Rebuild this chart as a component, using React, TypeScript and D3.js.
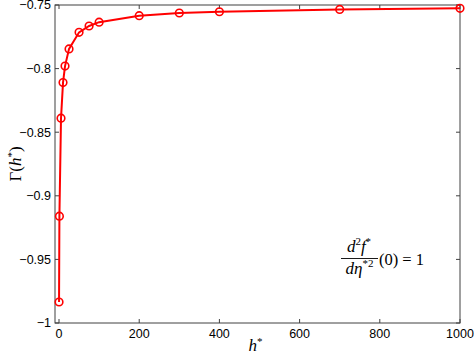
import * as d3 from 'd3';
import { useEffect, useRef } from 'react';

const WIDTH = 474;
const HEIGHT = 353;

// h* values and Γ(h*)
const hValues = [0.1, 1, 5, 10, 15, 25, 50, 75, 100, 200, 300, 400, 700, 1000];
const gammaValues = [
    -0.9835, -0.916, -0.839, -0.811, -0.798, -0.7845, -0.7715, -0.7665, -0.7635, -0.7584,
    -0.7563, -0.7553, -0.7535, -0.7526,
];
const xTicks = [0, 200, 400, 600, 800, 1000];
const yTicks = [-1, -0.95, -0.9, -0.85, -0.8, -0.75];

const fmtY = (v: number) => (v < 0 ? '\u2212' + String(Math.abs(v)) : String(v));

export default function App() {
    const svgRef = useRef<SVGSVGElement | null>(null);

    useEffect(() => {
        if (!svgRef.current) {
            return;
        }
        const svg = d3.select(svgRef.current);
        svg.selectAll('*').remove();

        const margin = { top: 5, right: 14, bottom: 30, left: 55 };
        const innerW = WIDTH - margin.left - margin.right;
        const innerH = HEIGHT - margin.top - margin.bottom;

        const x = d3.scaleLinear().domain([-10, 1000]).range([0, innerW]);
        const y = d3.scaleLinear().domain([-1, -0.75]).range([innerH, 0]);

        const g = svg.append('g').attr('transform', `translate(${margin.left},${margin.top})`);
        const axisColor = '#404040';
        const tickLen = 4;
        const sans = '"Liberation Sans", Arial, sans-serif';

        g.append('rect')
            .attr('width', innerW)
            .attr('height', innerH)
            .attr('fill', 'white')
            .attr('stroke', axisColor)
            .attr('stroke-width', 1);

        // x ticks, pointing inward at bottom and top
        xTicks.forEach((t) => {
            g.append('line')
                .attr('x1', x(t)).attr('x2', x(t))
                .attr('y1', innerH).attr('y2', innerH - tickLen)
                .attr('stroke', axisColor);
            g.append('line')
                .attr('x1', x(t)).attr('x2', x(t))
                .attr('y1', 0).attr('y2', tickLen)
                .attr('stroke', axisColor);
            g.append('text')
                .attr('x', x(t))
                .attr('y', innerH + 14.5)
                .attr('text-anchor', 'middle')
                .attr('font-family', sans)
                .attr('font-size', '12.5px')
                .attr('fill', '#000')
                .text(String(t));
        });

        // y ticks, pointing inward at left and right
        yTicks.forEach((t) => {
            g.append('line')
                .attr('x1', 0).attr('x2', tickLen)
                .attr('y1', y(t)).attr('y2', y(t))
                .attr('stroke', axisColor);
            g.append('line')
                .attr('x1', innerW).attr('x2', innerW - tickLen)
                .attr('y1', y(t)).attr('y2', y(t))
                .attr('stroke', axisColor);
            g.append('text')
                .attr('x', -4)
                .attr('y', y(t))
                .attr('dy', '0.35em')
                .attr('text-anchor', 'end')
                .attr('font-family', sans)
                .attr('font-size', '12.5px')
                .attr('fill', '#000')
                .text(fmtY(t));
        });

        const pts = hValues.map((h, i) => [x(h), y(gammaValues[i])] as [number, number]);

        g.append('path')
            .attr('d', d3.line()(pts))
            .attr('fill', 'none')
            .attr('stroke', '#ff0000')
            .attr('stroke-width', 2);

        g.selectAll('circle.pt')
            .data(pts)
            .join('circle')
            .attr('class', 'pt')
            .attr('cx', (d) => d[0])
            .attr('cy', (d) => d[1])
            .attr('r', 3.8)
            .attr('fill', 'none')
            .attr('stroke', '#ff0000')
            .attr('stroke-width', 1.6);

        const serif = '"Liberation Serif", "Times New Roman", serif';

        // x label h*
        const xl = svg.append('text')
            .attr('x', margin.left + x(490))
            .attr('y', HEIGHT - 2)
            .attr('text-anchor', 'middle')
            .attr('font-family', serif)
            .attr('font-style', 'italic')
            .attr('font-size', '17px')
            .attr('fill', '#000');
        xl.append('tspan').text('h');
        xl.append('tspan').attr('dy', -6).attr('font-size', '11px').attr('font-style', 'normal').text('*');

        // y label Γ(h*)
        const yl = svg.append('text')
            .attr('transform', `translate(21,${margin.top + innerH / 2}) rotate(-90)`)
            .attr('text-anchor', 'middle')
            .attr('font-family', serif)
            .attr('font-size', '17px')
            .attr('fill', '#000');
        yl.append('tspan').text('\u0393(');
        yl.append('tspan').attr('font-style', 'italic').text('h');
        yl.append('tspan').attr('dy', -6).attr('font-size', '11px').text('*');
        yl.append('tspan').attr('dy', 6).text(')');

        // annotation: d²f*/dη*²(0) = 1
        const ann = svg.append('g').attr('font-family', serif).attr('fill', '#000');
        const num = ann.append('text')
            .attr('x', 359)
            .attr('y', 252)
            .attr('text-anchor', 'middle')
            .attr('font-size', '17px');
        num.append('tspan').attr('font-style', 'italic').text('d');
        num.append('tspan').attr('dy', -7).attr('font-size', '11px').text('2');
        num.append('tspan').attr('dy', 7).attr('font-style', 'italic').text('f');
        num.append('tspan').attr('dy', -7).attr('font-size', '11px').text('*');
        ann.append('line')
            .attr('x1', 341).attr('x2', 378)
            .attr('y1', 258.5).attr('y2', 258.5)
            .attr('stroke', '#000')
            .attr('stroke-width', 0.9);
        const den = ann.append('text')
            .attr('x', 359.5)
            .attr('y', 274)
            .attr('text-anchor', 'middle')
            .attr('font-size', '17px');
        den.append('tspan').attr('font-style', 'italic').text('d\u03b7');
        den.append('tspan').attr('dy', -7).attr('font-size', '11px').text('*2');
        ann.append('text')
            .attr('x', 379)
            .attr('y', 265)
            .attr('font-size', '16.5px')
            .text('(0) = 1');
    }, []);

    return <svg ref={svgRef} width={WIDTH} height={HEIGHT} style={{ display: 'block', position: 'absolute', left: 0, top: 0 }} />;
}
